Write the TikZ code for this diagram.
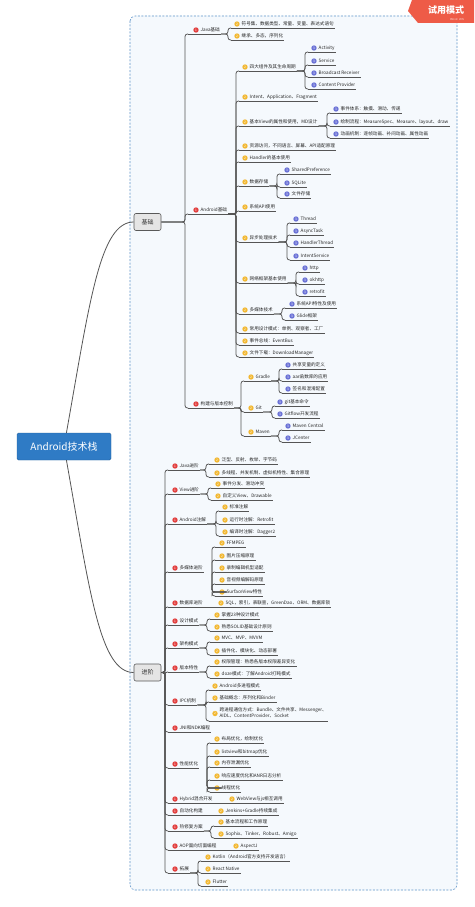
\documentclass[tikz,border=0pt]{standalone}
\usepackage{fontspec}
\setmainfont{Noto Sans CJK SC}
\usetikzlibrary{calc}
\definecolor{c1}{HTML}{E2403F}
\definecolor{c2}{HTML}{F2B833}
\definecolor{c3}{HTML}{6B72D6}
\definecolor{ulc}{HTML}{555555}
\definecolor{bgc}{HTML}{F5F9FD}
\definecolor{bdc}{HTML}{5E93C9}
\definecolor{rootc}{HTML}{2F7BC5}
\definecolor{badgec}{HTML}{EE5B47}
\tikzset{
 tx/.style={inner sep=0pt, font=\fontsize{4.6}{5.8}\selectfont, text=black!85},
 ic/.style={circle, inner sep=0pt, minimum size=5.4pt, text=white, font=\fontsize{3.2}{3.2}\selectfont},
 ul/.style={draw=ulc, line width=0.8pt},
 ln/.style={draw=ulc, line width=0.8pt, rounded corners=2.5pt},
 lvbox/.style={draw=black!65, fill=black!10, rounded corners=2pt, line width=0.6pt, minimum width=27pt, minimum height=17pt, inner sep=0pt, font=\fontsize{6}{7}\selectfont, text=black!80},
 rootbox/.style={fill=rootc, draw=rootc!80!black, line width=0.4pt, rounded corners=1.5pt, minimum width=94pt, minimum height=27pt, inner sep=0pt, text=white, font=\fontsize{10}{12}\selectfont},
 curve/.style={draw=ulc, line width=0.8pt}
}
\newcommand\tn[7][4]{%
 \node[tx,anchor=west] (#2) at ({#4+4.5},#5) {#7};
 \node[ic,fill=c#6] (#2i) at (#4,#5) {#6};
 \coordinate (#2s) at ({#3+3},{#5+#1});
 \coordinate (#2e) at ($(#2.east |- #2s)+(1,0)$);
 \draw[ul] (#2s) -- (#2e);
}
\newcommand\cn[3]{\draw[ln] (#1e) -- (#3,0 |- #1e) -- (#3,0 |- #2s) -- (#2s);}
\newcommand\cb[3]{\draw[ln] (#1.east) -- (#3,0 |- #1.east) -- (#3,0 |- #2s) -- (#2s);}
\newcommand\cs[2]{\draw[ul] (#1e) -- (#2s);}
\begin{document}
\begin{tikzpicture}[x=1pt,y=-1pt]
\useasboundingbox (0,0) rectangle (474,907);
\fill[white] (0,0) rectangle (474,907);
% frame
\draw[bdc, dashed, dash pattern=on 2pt off 1.5pt, line width=0.6pt, fill=bgc, rounded corners=5pt] (130,16) rectangle (457,890);
% badge
\fill[badgec] (412,0) -- (474,0) -- (474,23) -- (418,23) -- (408,11) -- cycle;
\node[text=white, font=\fontsize{9}{10}\selectfont\bfseries, inner sep=0pt] (badge) at (446,10.5) {试用模式};
\node[text=white!80!badgec, font=\fontsize{2.6}{3}\selectfont, inner sep=0pt] (badgesub) at (457,19) {XMind: ZEN};
% root
\node[rootbox] (root) at (64,446.5) {Android技术栈};
\node[lvbox] (JC) at (147.5,222) {基础};
\node[lvbox] (JJ) at (147.5,672.5) {进阶};
\draw[curve] (root) .. controls (90,300) and (100,222) .. (JC.west);
\draw[curve] (root) .. controls (90,593) and (100,672.5) .. (JJ.west);

% ===== 基础 =====
\tn{J1}{185}{196}{30}{1}{Java基础}
\tn{A1}{185}{196}{210}{1}{Android基础}
\tn{B1}{185}{196}{404}{1}{构建与版本控制}
\cb{JC}{J1}{185}\cb{JC}{A1}{185}\cb{JC}{B1}{185}

\tn{J11}{228}{237}{24}{2}{符号集、数据类型、常量、变量、表达式语句}
\tn{J12}{228}{237}{36}{2}{继承、多态，序列化}
\cn{J1}{J11}{228}\cn{J1}{J12}{228}

\tn{Aa}{236}{245}{67}{2}{四大组件及其生命周期}
\tn{Ab}{236}{245}{97}{2}{Intent、Application、Fragment}
\tn{Ac}{236}{245}{122}{2}{基本View的属性和使用，MD设计}
\tn{Ad}{236}{245}{146}{2}{资源访问，不同语言、屏幕、API适配原理}
\tn{Ae}{236}{245}{158}{2}{Handler的基本使用}
\tn{Af}{236}{245}{182}{2}{数据存储}
\tn{Ag}{236}{245}{207}{2}{系统API使用}
\tn{Ah}{236}{245}{238}{2}{异步处理技术}
\tn{Ai}{236}{245}{279}{2}{网络框架基本使用}
\tn{Aj}{236}{245}{310}{2}{多媒体技术}
\tn{Ak}{236}{245}{329}{2}{常用设计模式：单例、观察者、工厂}
\tn{Al}{236}{245}{341}{2}{事件总线：EventBus}
\tn{Am}{236}{245}{353}{2}{文件下载：DownloadManager}
\cn{A1}{Aa}{236}\cn{A1}{Ab}{236}\cn{A1}{Ac}{236}\cn{A1}{Ad}{236}\cn{A1}{Ae}{236}
\cn{A1}{Af}{236}\cn{A1}{Ag}{236}\cn{A1}{Ah}{236}\cn{A1}{Ai}{236}\cn{A1}{Aj}{236}
\cn{A1}{Ak}{236}\cn{A1}{Al}{236}\cn{A1}{Am}{236}

\tn{Aa1}{305}{314}{48}{3}{Activity}
\tn{Aa2}{305}{314}{61}{3}{Service}
\tn{Aa3}{305}{314}{73}{3}{Broadcast Receiver}
\tn{Aa4}{305}{314}{85}{3}{Content Provider}
\cn{Aa}{Aa1}{305}\cn{Aa}{Aa2}{305}\cn{Aa}{Aa3}{305}\cn{Aa}{Aa4}{305}

\tn{Ac1}{327}{336}{109}{3}{事件体系：触摸、滑动、传递}
\tn{Ac2}{327}{336}{122}{3}{绘制流程：MeasureSpec、Measure、layout、draw}
\tn{Ac3}{327}{336}{134}{3}{动画机制：逐帧动画、补间动画、属性动画}
\cn{Ac}{Ac1}{327}\cn{Ac}{Ac2}{327}\cn{Ac}{Ac3}{327}

\tn{Af1}{277}{287}{170}{3}{SharedPreference}
\tn{Af2}{277}{287}{183}{3}{SQLite}
\tn{Af3}{277}{287}{194}{3}{文件存储}
\cn{Af}{Af1}{277}\cn{Af}{Af2}{277}\cn{Af}{Af3}{277}

\tn{Ah1}{287}{296}{219}{3}{Thread}
\tn{Ah2}{287}{296}{231}{3}{AsyncTask}
\tn{Ah3}{287}{296}{243}{3}{HandlerThread}
\tn{Ah4}{287}{296}{256}{3}{IntentService}
\cn{Ah}{Ah1}{287}\cn{Ah}{Ah2}{287}\cn{Ah}{Ah3}{287}\cn{Ah}{Ah4}{287}

\tn{Ai1}{296}{305}{268}{3}{http}
\tn{Ai2}{296}{305}{280}{3}{okhttp}
\tn{Ai3}{296}{305}{292}{3}{retrofit}
\cn{Ai}{Ai1}{296}\cn{Ai}{Ai2}{296}\cn{Ai}{Ai3}{296}

\tn{Aj1}{282}{292}{304}{3}{系统API特性及使用}
\tn{Aj2}{282}{292}{316}{3}{Glide框架}
\cn{Aj}{Aj1}{282}\cn{Aj}{Aj2}{282}

\tn{B1a}{241}{251}{377}{2}{Gradle}
\tn{B1b}{241}{251}{408}{2}{Git}
\tn{B1c}{241}{251}{432}{2}{Maven}
\cn{B1}{B1a}{241}\cn{B1}{B1b}{241}\cn{B1}{B1c}{241}

\tn{Ba1}{279}{288}{365}{3}{共享变量的定义}
\tn{Ba2}{279}{288}{377}{3}{aar函数库的应用}
\tn{Ba3}{279}{288}{389}{3}{签名和混淆配置}
\cn{B1a}{Ba1}{279}\cn{B1a}{Ba2}{279}\cn{B1a}{Ba3}{279}

\tn{Bb1}{272}{280}{402}{3}{git基本命令}
\tn{Bb2}{272}{280}{414}{3}{Gitflow开发流程}
\cn{B1b}{Bb1}{272}\cn{B1b}{Bb2}{272}

\tn{Bc1}{279}{288}{426}{3}{Maven Central}
\tn{Bc2}{279}{288}{438}{3}{JCenter}
\cn{B1c}{Bc1}{279}\cn{B1c}{Bc2}{279}

% ===== 进阶 =====
\tn{K1}{165}{175}{466}{1}{Java进阶}
\tn{K2}{165}{175}{490}{1}{View进阶}
\tn{K3}{165}{175}{520}{1}{Android注解}
\tn{K4}{165}{175}{568}{1}{多媒体进阶}
\tn{K5}{165}{175}{603}{1}{数据库进阶}
\tn{K6}{165}{175}{621}{1}{设计模式}
\tn{K7}{165}{175}{644}{1}{架构模式}
\tn{K8}{165}{175}{668}{1}{版本特性}
\tn{K9}{165}{175}{701}{1}{IPC机制}
\tn{K10}{165}{175}{728}{1}{JNI和NDK编程}
\tn{K11}{165}{175}{764}{1}{性能优化}
\tn{K12}{165}{175}{799}{1}{Hybrid混合开发}
\tn{K13}{165}{175}{811}{1}{自动化构建}
\tn{K14}{165}{175}{827}{1}{热修复方案}
\tn{K15}{165}{175}{846}{1}{AOP面向切面编程}
\tn{K16}{165}{175}{869}{1}{拓展}
\cb{JJ}{K1}{165}\cb{JJ}{K2}{165}\cb{JJ}{K3}{165}\cb{JJ}{K4}{165}
\cb{JJ}{K5}{165}\cb{JJ}{K6}{165}\cb{JJ}{K7}{165}\cb{JJ}{K8}{165}
\cb{JJ}{K9}{165}\cb{JJ}{K10}{165}\cb{JJ}{K11}{165}\cb{JJ}{K12}{165}
\cb{JJ}{K13}{165}\cb{JJ}{K14}{165}\cb{JJ}{K15}{165}\cb{JJ}{K16}{165}

\tn{K1a}{206}{217}{460}{2}{泛型、反射、枚举、字节码}
\tn{K1b}{206}{217}{473}{2}{多线程、并发机制、虚拟机特性、集合原理}
\cn{K1}{K1a}{206}\cn{K1}{K1b}{206}

\tn{K2a}{208}{218}{484}{2}{事件分发、滑动冲突}
\tn{K2b}{208}{218}{496}{2}{自定义View、Drawable}
\cn{K2}{K2a}{208}\cn{K2}{K2b}{208}

\tn{K3a}{216}{225}{507}{2}{标准注解}
\tn{K3b}{216}{225}{520}{2}{运行时注解：Retrofit}
\tn{K3c}{216}{225}{532}{2}{编译时注解：Dagger2}
\cn{K3}{K3a}{216}\cn{K3}{K3b}{216}\cn{K3}{K3c}{216}

\tn{K4a}{212}{222}{543}{2}{FFMPEG}
\tn{K4b}{212}{222}{556}{2}{图片压缩原理}
\tn{K4c}{212}{222}{568}{2}{录制编辑机型适配}
\tn{K4d}{212}{222}{580}{2}{音视频编解码原理}
\tn{K4e}{212}{222}{592}{2}{SurfaceView特性}
\cn{K4}{K4a}{212}\cn{K4}{K4b}{212}\cn{K4}{K4c}{212}\cn{K4}{K4d}{212}\cn{K4}{K4e}{212}

\tn{K5a}{211}{221}{603}{2}{SQL，索引，表联查，GreenDao、ORM、数据库锁}
\cs{K5}{K5a}

\tn{K6a}{207}{217}{615}{2}{掌握23种设计模式}
\tn{K6b}{207}{217}{627}{2}{熟悉SOLID基础设计原则}
\cn{K6}{K6a}{207}\cn{K6}{K6b}{207}

\tn{K7a}{207}{217}{638}{2}{MVC、MVP、MVVM}
\tn{K7b}{207}{217}{651}{2}{插件化、模块化、动态部署}
\cn{K7}{K7a}{207}\cn{K7}{K7b}{207}

\tn{K8a}{207}{217}{662}{2}{权限管理：熟悉各版本权限差异变化}
\tn{K8b}{207}{217}{674}{2}{doze模式：了解Android打盹模式}
\cn{K8}{K8a}{207}\cn{K8}{K8b}{207}

\tn{K9a}{206}{215}{686}{2}{Android多进程模式}
\tn{K9b}{206}{215}{698}{2}{基础概念：序列化和Binder}
\tn[7.5]{K9c}{206}{215}{713.5}{2}{\begin{tabular}{@{}l@{}}跨进程通信方式：Bundle、文件共享、Messenger、\\AIDL、ContentProvider、Socket\end{tabular}}
\cn{K9}{K9a}{206}\cn{K9}{K9b}{206}\cn{K9}{K9c}{206}

\tn{K11a}{207}{217}{739}{2}{布局优化，绘制优化}
\tn{K11b}{207}{217}{752}{2}{listview和bitmap优化}
\tn{K11c}{207}{217}{763}{2}{内存泄漏优化}
\tn{K11d}{207}{217}{776}{2}{响应速度优化和ANR日志分析}
\tn{K11e}{207}{217}{788}{2}{线程优化}
\cn{K11}{K11a}{207}\cn{K11}{K11b}{207}\cn{K11}{K11c}{207}\cn{K11}{K11d}{207}\cn{K11}{K11e}{207}

\tn{K12a}{222}{232}{799}{2}{WebView与js相互调用}
\cs{K12}{K12a}
\tn{K13a}{211}{221}{811}{2}{Jenkins+Gradle持续集成}
\cs{K13}{K13a}

\tn{K14a}{211}{221}{822}{2}{基本流程和工作原理}
\tn{K14b}{211}{221}{834}{2}{Sophix、Tinker、Robust、Amigo}
\cn{K14}{K14a}{211}\cn{K14}{K14b}{211}

\tn{K15a}{226}{236}{846}{2}{AspectJ}
\cs{K15}{K15a}

\tn{K16a}{198}{208}{857}{2}{Kotlin（Android官方支持开发语言）}
\tn{K16b}{198}{208}{869}{2}{React Native}
\tn{K16c}{198}{208}{882}{2}{Flutter}
\cn{K16}{K16a}{198}\cn{K16}{K16b}{198}\cn{K16}{K16c}{198}
\end{tikzpicture}
\end{document}
